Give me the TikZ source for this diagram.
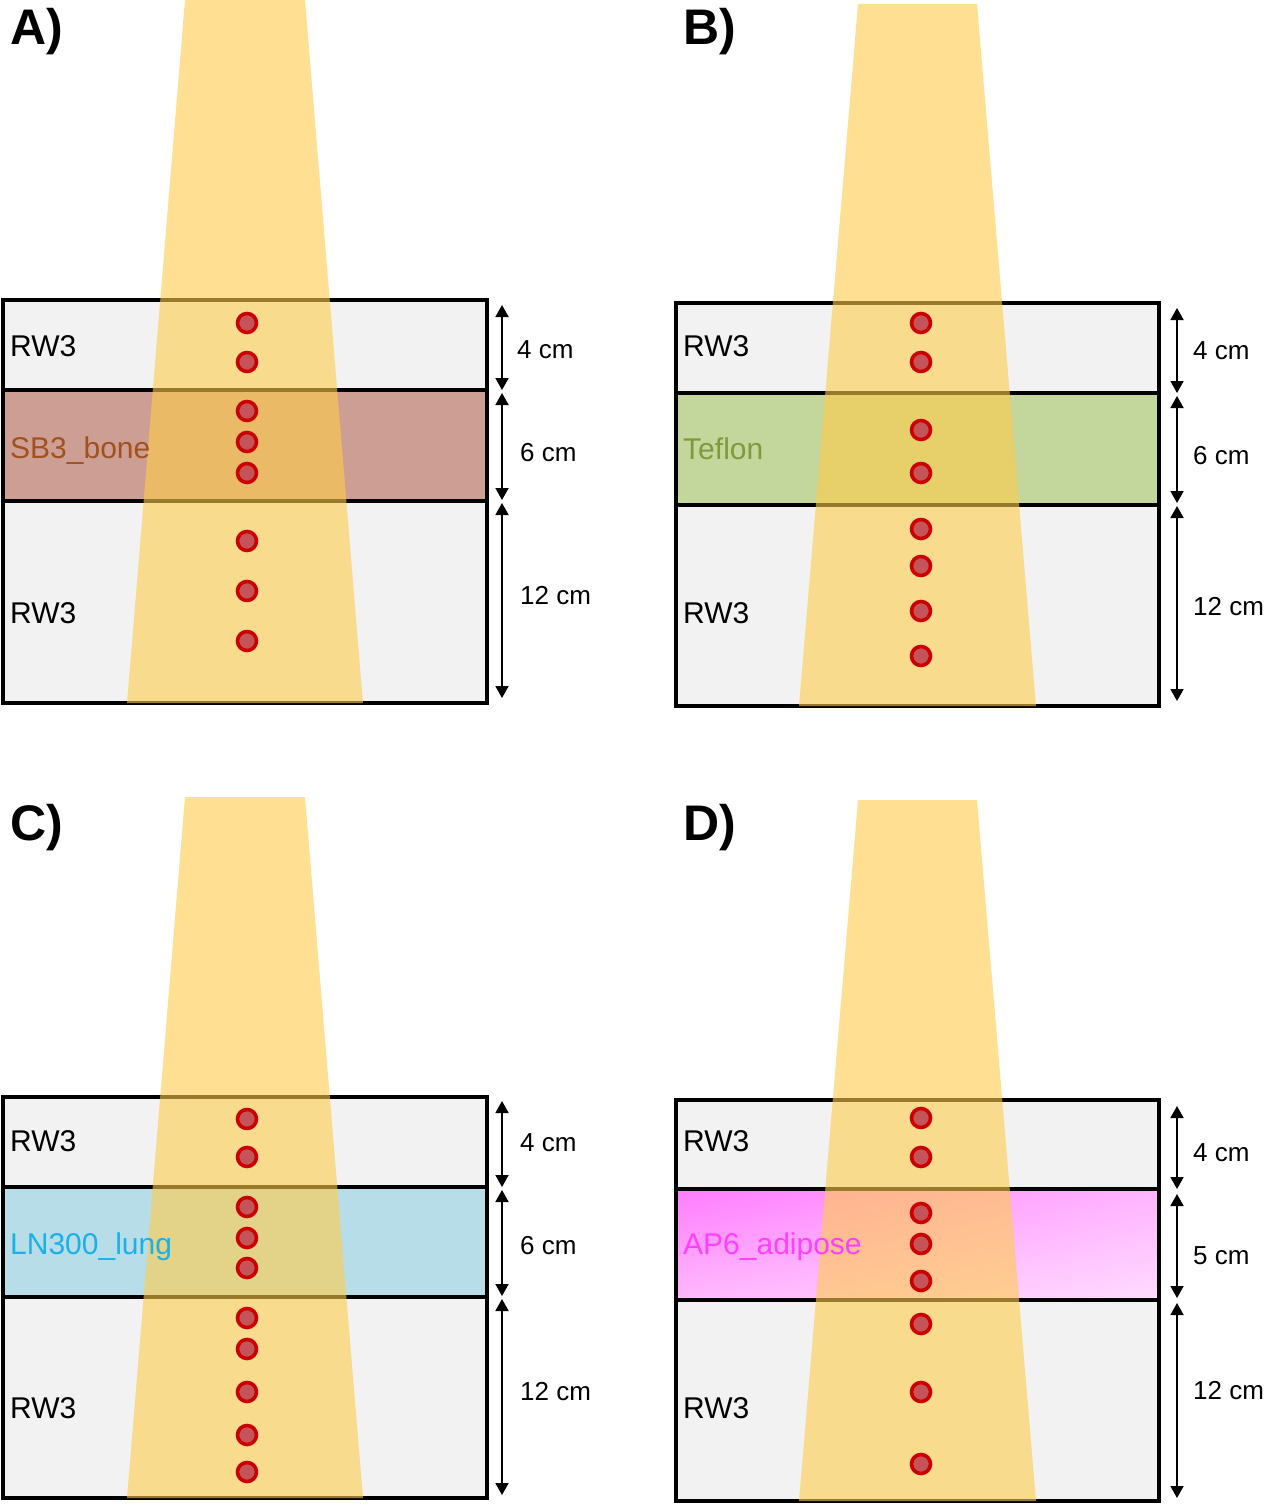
\documentclass[tikz,border=0pt]{standalone}
\usepackage{fontspec}
\setmainfont{Liberation Sans}
\usetikzlibrary{arrows.meta,shadings}
\definecolor{rwc}{HTML}{F2F2F2}
\definecolor{bonec}{HTML}{CD9F94}
\definecolor{bonet}{HTML}{A0521E}
\definecolor{teflc}{HTML}{C3D69B}
\definecolor{teflt}{HTML}{7F9A3C}
\definecolor{lungc}{HTML}{B7DEE8}
\definecolor{lungt}{HTML}{1AB0E8}
\definecolor{adit}{HTML}{FF40FF}
\definecolor{adA}{HTML}{FF7CFF}
\definecolor{adB}{HTML}{FFB4FF}
\definecolor{adC}{HTML}{FFB8FC}
\definecolor{adD}{HTML}{FFDBFF}
\definecolor{beamc}{RGB}{255,204,74}
\definecolor{dotline}{HTML}{CC0000}
\definecolor{dotfill}{RGB}{196,84,88}
\begin{document}
\begin{tikzpicture}[x=1pt,y=-1pt,
 border/.style={draw=black,line width=4pt},
 layer/.style={draw=black,line width=3.5pt},
 beam/.style={fill=beamc,fill opacity=0.6},
 dot/.style={circle,draw=dotline,fill=dotfill,line width=3.6pt,minimum size=19pt,inner sep=0pt},
 dim/.style={line width=1.8pt,{Triangle[width=13pt,length=12pt]}-{Triangle[width=13pt,length=12pt]}},
 lab/.style={anchor=base west,inner sep=0pt,font=\fontsize{30}{33}\selectfont},
 dimlab/.style={anchor=base west,inner sep=0pt,font=\fontsize{26}{30}\selectfont},
 plab/.style={anchor=base west,inner sep=0pt,font=\fontsize{50}{55}\selectfont\bfseries}]
\useasboundingbox (0,0) rectangle (1266,1506);

% ---------------- Panel A ----------------
\node[plab] (pA) at (10,45) {A)};
\fill[rwc] (3,300) rectangle (487,703);
\fill[bonec] (3,390) rectangle (487,501);
\draw[border] (3,300) rectangle (487,703);
\draw[layer] (3,390) -- (487,390) (3,501) -- (487,501);
\fill[beam] (185,0) -- (305,0) -- (363,703) -- (127,703) -- cycle;
\node[lab] (a1) at (10,356) {RW3};
\node[lab,text=bonet] (a2) at (10,458) {SB3\_bone};
\node[lab] (a3) at (10,623) {RW3};
\foreach \yy [count=\i] in {323,362,411,442,473,541,591,641}
  \node[dot] (ad\i) at (247,\yy) {};
\coordinate (aA1) at (502,305); \coordinate (aA2) at (502,390);
\coordinate (aB1) at (502,393); \coordinate (aB2) at (502,500);
\coordinate (aC1) at (502,503); \coordinate (aC2) at (502,698);
\draw[dim] (aA1) -- (aA2);
\draw[dim] (aB1) -- (aB2);
\draw[dim] (aC1) -- (aC2);
\node[dimlab] (ax1) at (517,358) {4 cm};
\node[dimlab] (ax2) at (520,461) {6 cm};
\node[dimlab] (ax3) at (520,604) {12 cm};

% ---------------- Panel B ----------------
\node[plab] (pB) at (683,45) {B)};
\fill[rwc] (676,303) rectangle (1159,706);
\fill[teflc] (676,393) rectangle (1159,505);
\draw[border] (676,303) rectangle (1159,706);
\draw[layer] (676,393) -- (1159,393) (676,505) -- (1159,505);
\fill[beam] (858,4) -- (977,4) -- (1036,706) -- (799,706) -- cycle;
\node[lab] (b1) at (683,356) {RW3};
\node[lab,text=teflt] (b2) at (683,459) {Teflon};
\node[lab] (b3) at (683,623) {RW3};
\foreach \yy [count=\i] in {323,362,430,473,529,566,611,656}
  \node[dot] (bd\i) at (921,\yy) {};
\coordinate (bA1) at (1177,308); \coordinate (bA2) at (1177,393);
\coordinate (bB1) at (1177,396); \coordinate (bB2) at (1177,503);
\coordinate (bC1) at (1177,506); \coordinate (bC2) at (1177,701);
\draw[dim] (bA1) -- (bA2);
\draw[dim] (bB1) -- (bB2);
\draw[dim] (bC1) -- (bC2);
\node[dimlab] (bx1) at (1193,359) {4 cm};
\node[dimlab] (bx2) at (1193,464) {6 cm};
\node[dimlab] (bx3) at (1193,615) {12 cm};

% ---------------- Panel C ----------------
\node[plab] (pC) at (10,840) {C)};
\fill[rwc] (3,1097) rectangle (487,1498);
\fill[lungc] (3,1187) rectangle (487,1297);
\draw[border] (3,1097) rectangle (487,1498);
\draw[layer] (3,1187) -- (487,1187) (3,1297) -- (487,1297);
\fill[beam] (185,797) -- (305,797) -- (363,1498) -- (127,1498) -- cycle;
\node[lab] (c1) at (10,1151) {RW3};
\node[lab,text=lungt] (c2) at (10,1254) {LN300\_lung};
\node[lab] (c3) at (10,1418) {RW3};
\foreach \yy [count=\i] in {1119,1157,1207,1238,1268,1318,1349,1392,1435,1472}
  \node[dot] (cd\i) at (247,\yy) {};
\coordinate (cA1) at (502,1101); \coordinate (cA2) at (502,1187);
\coordinate (cB1) at (502,1190); \coordinate (cB2) at (502,1296);
\coordinate (cC1) at (502,1299); \coordinate (cC2) at (502,1495);
\draw[dim] (cA1) -- (cA2);
\draw[dim] (cB1) -- (cB2);
\draw[dim] (cC1) -- (cC2);
\node[dimlab] (cx1) at (520,1151) {4 cm};
\node[dimlab] (cx2) at (520,1254) {6 cm};
\node[dimlab] (cx3) at (520,1400) {12 cm};

% ---------------- Panel D ----------------
\node[plab] (pD) at (683,840) {D)};
\fill[rwc] (676,1100) rectangle (1159,1501);
\shade[upper left=adA,upper right=adB,lower left=adC,lower right=adD] (676,1189) rectangle (1159,1300);
\draw[border] (676,1100) rectangle (1159,1501);
\draw[layer] (676,1189) -- (1159,1189) (676,1300) -- (1159,1300);
\fill[beam] (858,800) -- (977,800) -- (1036,1501) -- (799,1501) -- cycle;
\node[lab] (d1) at (683,1151) {RW3};
\node[lab,text=adit] (d2) at (683,1254) {AP6\_adipose};
\node[lab] (d3) at (683,1418) {RW3};
\foreach \yy [count=\i] in {1118,1157,1213,1244,1281,1324,1392,1464}
  \node[dot] (dd\i) at (921,\yy) {};
\coordinate (dA1) at (1177,1106); \coordinate (dA2) at (1177,1189);
\coordinate (dB1) at (1177,1194); \coordinate (dB2) at (1177,1298);
\coordinate (dC1) at (1177,1303); \coordinate (dC2) at (1177,1498);
\draw[dim] (dA1) -- (dA2);
\draw[dim] (dB1) -- (dB2);
\draw[dim] (dC1) -- (dC2);
\node[dimlab] (dx1) at (1193,1161) {4 cm};
\node[dimlab] (dx2) at (1193,1264) {5 cm};
\node[dimlab] (dx3) at (1193,1399) {12 cm};
\end{tikzpicture}
\end{document}
